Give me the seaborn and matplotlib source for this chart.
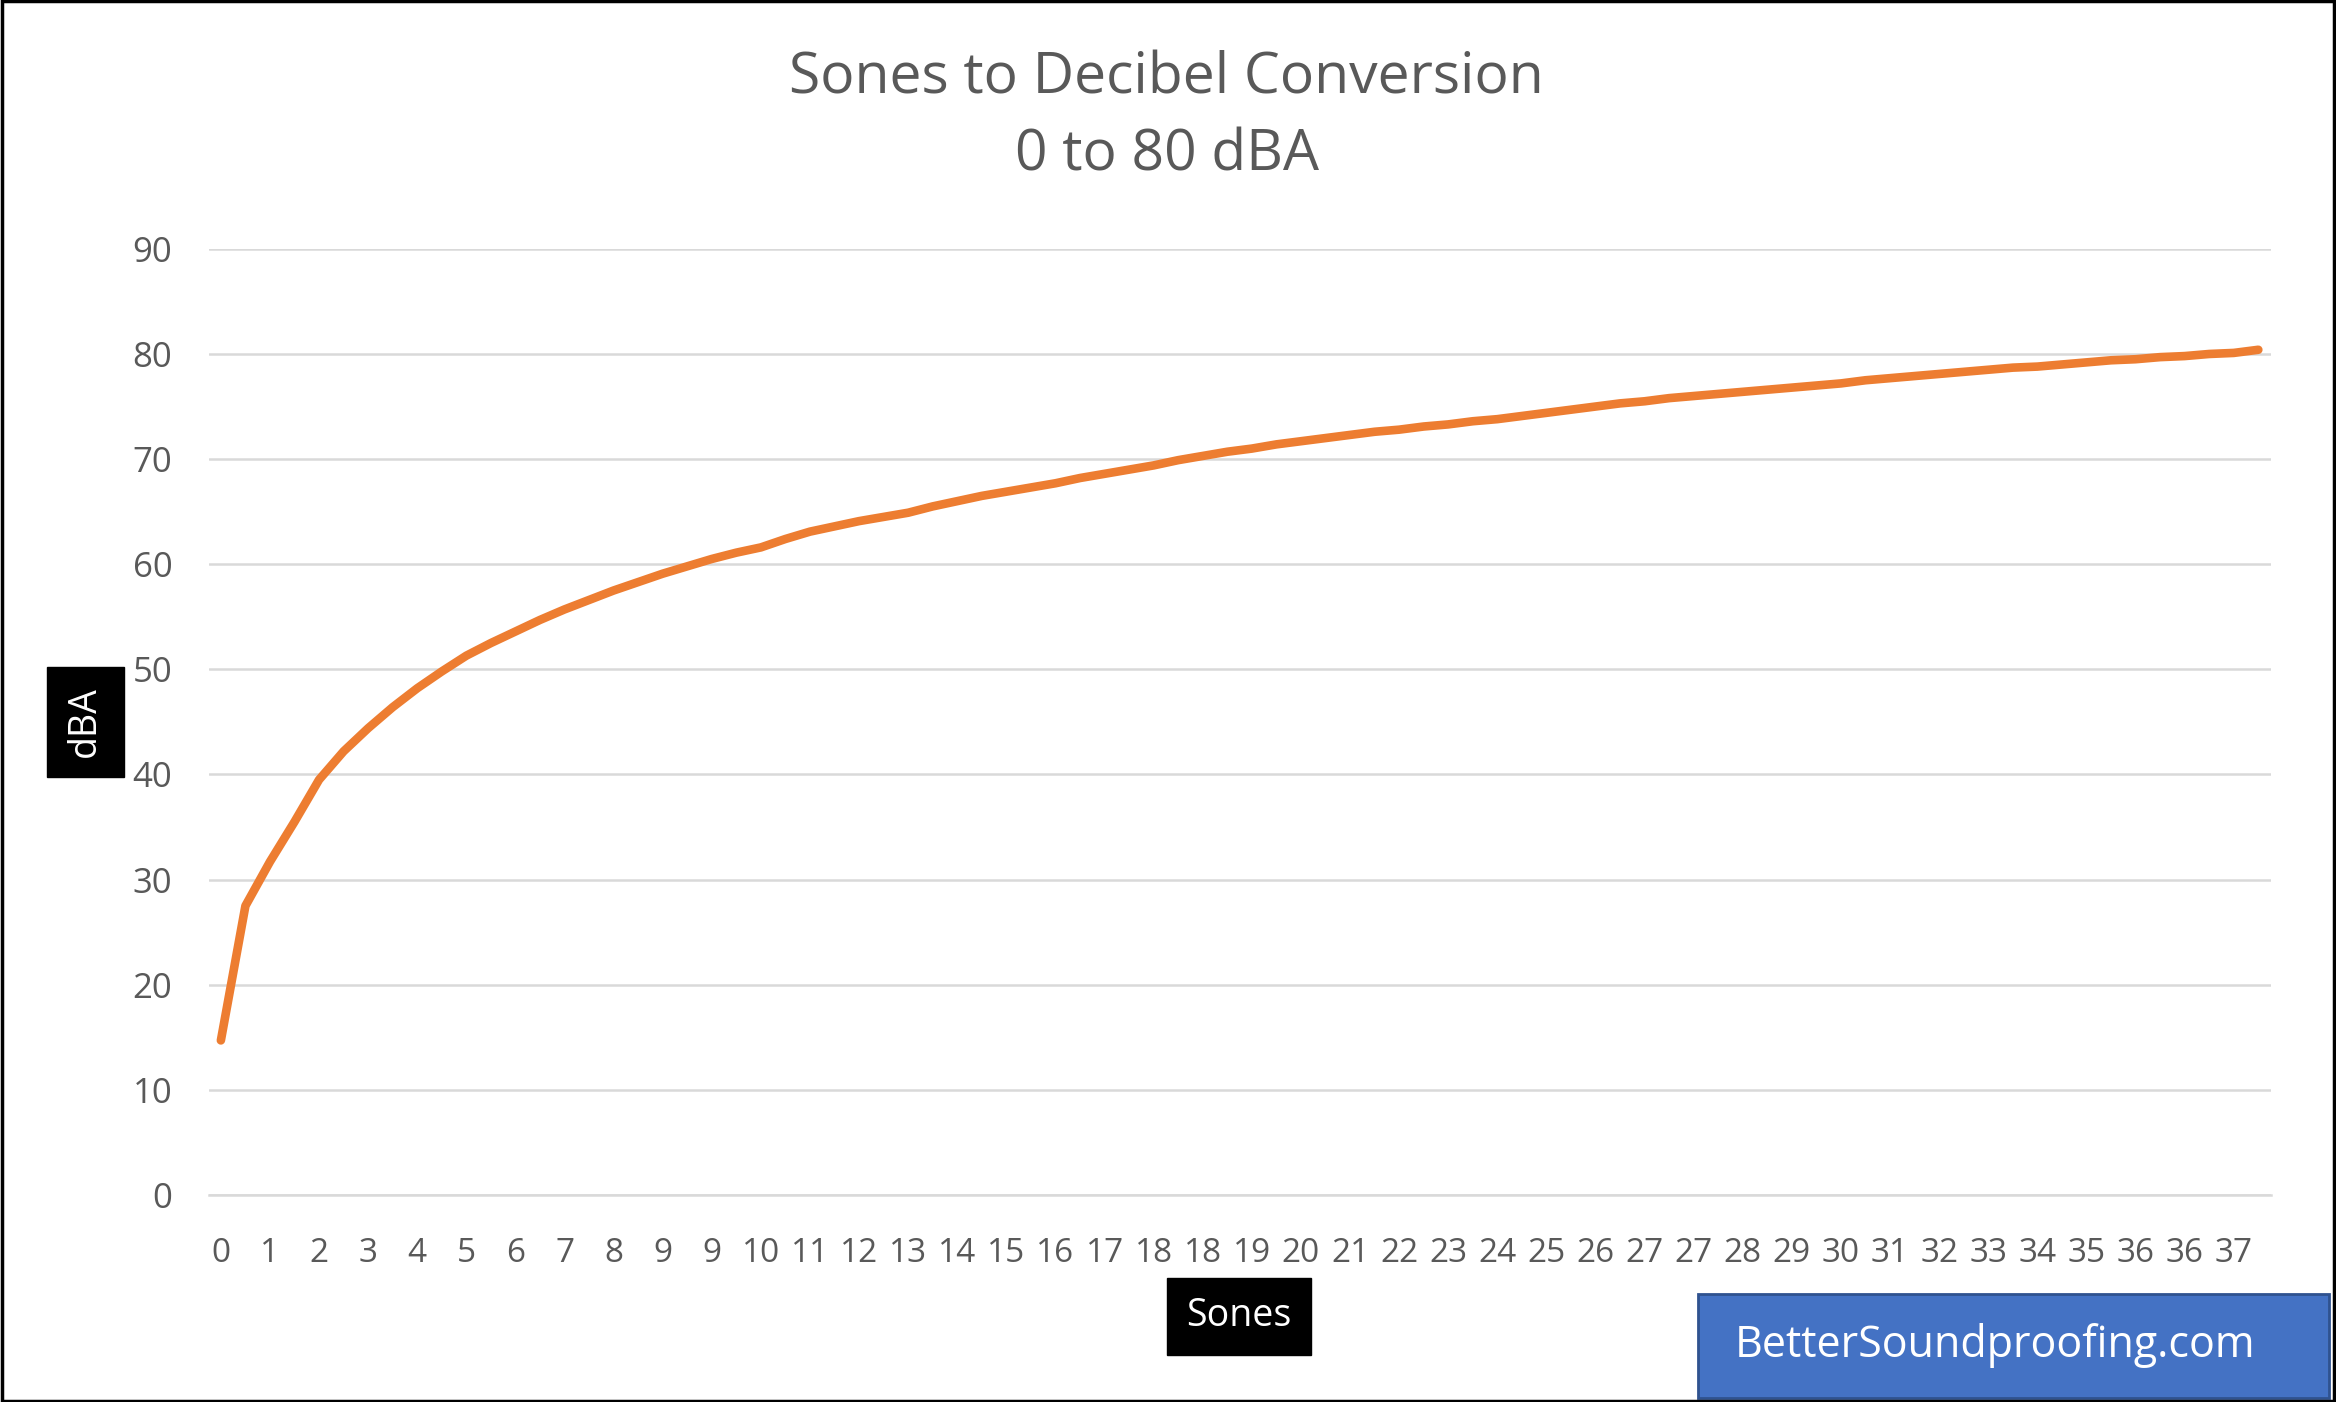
import matplotlib
matplotlib.use("Agg")
import matplotlib.pyplot as plt
import seaborn as sns
import pandas as pd

# dBA value at each category point (84 points, label on every second one)
dba = [
    14.7, 27.5, 31.7, 35.5, 39.5, 42.2, 44.4, 46.4, 48.2, 49.8,
    51.3, 52.5, 53.6, 54.7, 55.7, 56.6, 57.5, 58.3, 59.1, 59.8,
    60.5, 61.1, 61.6, 62.4, 63.1, 63.6, 64.1, 64.5, 64.9, 65.5,
    66.0, 66.5, 66.9, 67.3, 67.7, 68.2, 68.6, 69.0, 69.4, 69.9,
    70.3, 70.7, 71.0, 71.4, 71.7, 72.0, 72.3, 72.6, 72.8, 73.1,
    73.3, 73.6, 73.8, 74.1, 74.4, 74.7, 75.0, 75.3, 75.5, 75.8,
    76.0, 76.2, 76.4, 76.6, 76.8, 77.0, 77.2, 77.5, 77.7, 77.9,
    78.1, 78.3, 78.5, 78.7, 78.8, 79.0, 79.2, 79.4, 79.5, 79.7,
    79.8, 80.0, 80.1, 80.4,
]
sone_labels = [
    "0", "1", "2", "3", "4", "5", "6", "7", "8", "9", "9", "10", "11", "12",
    "13", "14", "15", "16", "17", "18", "18", "19", "20", "21", "22", "23",
    "24", "25", "26", "27", "27", "28", "29", "30", "31", "32", "33", "34",
    "35", "36", "36", "37",
]
y_ticks = [0, 10, 20, 30, 40, 50, 60, 70, 80, 90]

GREY = "#595959"
sns.set_theme(style="white")
plt.rcParams["font.family"] = ["Open Sans", "DejaVu Sans"]

df = pd.DataFrame({"point": range(len(dba)), "dba": dba})

fig = plt.figure(figsize=(23.36, 14.02), dpi=100)
ax = fig.add_axes([0.0893, 0.1477, 0.8827, 0.6748])
sns.lineplot(data=df, x="point", y="dba", ax=ax, color="#ED7D31", linewidth=6.2)

ax.set_xlim(-0.5, len(dba) - 0.5)
ax.set_ylim(0, 90)
ax.set_yticks(y_ticks)
ax.set_yticklabels([str(v) for v in y_ticks], fontsize=25, color=GREY)
ax.set_xticks(range(0, 2 * len(sone_labels), 2))
ax.set_xticklabels(sone_labels, fontsize=24, color=GREY)
ax.tick_params(axis="x", length=0, pad=30)
ax.tick_params(axis="y", length=0, pad=26)
ax.grid(axis="y", color="#D9D9D9", linewidth=1.8)
for s in ["top", "right", "left"]:
    ax.spines[s].set_visible(False)
ax.spines["bottom"].set_color("#D9D9D9")
ax.spines["bottom"].set_linewidth(1.8)
ax.set_xlabel("")
ax.set_ylabel("")

fig.text(0.4995, 0.944, "Sones to Decibel Conversion", ha="center", va="center",
         fontsize=41, color=GREY)
fig.text(0.4995, 0.889, "0 to 80 dBA", ha="center", va="center",
         fontsize=41, color=GREY)

fig.text(0.0365, 0.485, "dBA", ha="center", va="center", rotation=90,
         fontsize=27, color="white",
         bbox=dict(facecolor="black", edgecolor="black", pad=14))
fig.text(0.5305, 0.061, "Sones", ha="center", va="center", fontsize=27,
         color="white", bbox=dict(facecolor="black", edgecolor="black", pad=14))
fig.patches.append(plt.Rectangle((0.727, 0.003), 0.27, 0.074, transform=fig.transFigure,
                                 facecolor="#4472C4", edgecolor="#2F528F", linewidth=2))
fig.text(0.854, 0.04, "BetterSoundproofing.com", ha="center", va="center",
         fontsize=31, color="white")

fig.patches.append(plt.Rectangle((0.001, 0.001), 0.998, 0.998, transform=fig.transFigure,
                                 fill=False, edgecolor="black", linewidth=2.5))
fig.savefig("out.png", dpi=100)
